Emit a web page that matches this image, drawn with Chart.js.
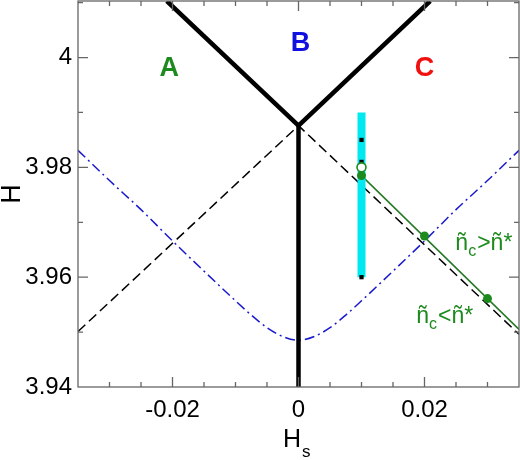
<!DOCTYPE html>
<html>
<head>
<meta charset="utf-8">
<script src="https://cdn.jsdelivr.net/npm/chart.js@4.4.1/dist/chart.umd.min.js"></script>
<style>
  body { margin: 0; background: #fff; }
  canvas { display: block; }
</style>
</head>
<body>
<canvas id="phaseChart" width="520" height="460"></canvas>
<script>
// axis ranges and tick labels
var xRange = [-0.035, 0.035];
var yRange = [3.94, 4.0103];
var xTicks = [-0.02, 0, 0.02];
var yTicks = [3.94, 3.96, 3.98, 4];

// thick phase boundaries
var boundaryX = [-0.0209, 0, 0.0209];
var boundaryY = [4.0103, 3.9876, 4.0103];
var stemX = [0, 0];
var stemY = [3.9876, 3.94];

// dashed continuation lines
var dashedX = [-0.035, 0, 0.035];
var dashedY = [3.9501, 3.9876, 3.9496];

// dash-dot curve
var curveX = [-0.035, -0.03, -0.025, -0.02, -0.015, -0.01, -0.0075, -0.005, -0.0025, 0,
              0.0025, 0.005, 0.0075, 0.01, 0.015, 0.02, 0.025, 0.03, 0.035];
var curveY = [3.9831, 3.9776, 3.9723, 3.9666, 3.9611, 3.9557, 3.9531, 3.9508, 3.9492, 3.9485,
              3.9492, 3.9508, 3.9531, 3.9557, 3.9611, 3.9666, 3.9723, 3.9776, 3.9831];

// cyan bar and black squares
var barX = [0.01, 0.01];
var barY = [3.96, 3.99];
var squareX = [0.01, 0.01, 0.01];
var squareY = [3.985, 3.981, 3.96];

// green points and line
var openX = [0.01];
var openY = [3.98];
var greenX = [0.01, 0.02, 0.03];
var greenY = [3.9785, 3.9675, 3.9561];
var fitX = [0.01, 0.035];
var fitY = [3.9785, 3.9505];

// text annotations (data coordinates)
var regionText = ['A', 'B', 'C'];
var regionX = [-0.0205, 0.0003, 0.02];
var regionY = [3.998, 4.0026, 3.998];
var compareOps = ['>', '<'];
var compareX = [0.0249, 0.0187];
var compareY = [3.9649, 3.9516];

function pts(xs, ys) {
  return xs.map(function (x, i) { return { x: x, y: ys[i] }; });
}

var FONT = "'Liberation Sans', Arial, Helvetica, sans-serif";
var GREEN = '#1c8a1c';
Chart.defaults.font.family = FONT;
Chart.defaults.color = '#000';

var framePlugin = {
  id: 'frame',
  afterDatasetsDraw: function (chart) {
    var ctx = chart.ctx, a = chart.chartArea;
    var xs = chart.scales.x, ys = chart.scales.y;
    ctx.save();
    ctx.strokeStyle = '#666';
    ctx.lineWidth = 1.3;
    ctx.strokeRect(a.left, a.top, a.right - a.left, a.bottom - a.top);
    ctx.beginPath();
    for (var i = -7; i <= 7; i++) {
      var v = i * 0.005;
      var len = (i % 4 === 0) ? 10 : 5;
      var px = xs.getPixelForValue(v);
      if (px <= a.left + 1 || px >= a.right - 1) continue;
      ctx.moveTo(px, a.bottom); ctx.lineTo(px, a.bottom - len);
      ctx.moveTo(px, a.top); ctx.lineTo(px, a.top + len);
    }
    for (var j = 0; j <= 7; j++) {
      var yv = 3.94 + j * 0.01;
      var ylen = (j % 2 === 0) ? 10 : 5;
      var py = ys.getPixelForValue(yv);
      if (py <= a.top + 1 || py >= a.bottom - 1) continue;
      ctx.moveTo(a.left, py); ctx.lineTo(a.left + ylen, py);
      ctx.moveTo(a.right, py); ctx.lineTo(a.right - ylen, py);
    }
    ctx.stroke();
    ctx.restore();
  },
  afterDraw: function (chart) {
    var ctx = chart.ctx, a = chart.chartArea;
    var xs = chart.scales.x, ys = chart.scales.y;
    ctx.save();
    // region letters
    var regionColors = [GREEN, '#1010e0', '#f01010'];
    ctx.font = 'bold 27px ' + FONT;
    ctx.textAlign = 'center';
    ctx.textBaseline = 'middle';
    regionText.forEach(function (t, i) {
      ctx.fillStyle = regionColors[i];
      ctx.fillText(t, xs.getPixelForValue(regionX[i]), ys.getPixelForValue(regionY[i]));
    });
    // n_c vs n* labels
    ctx.fillStyle = GREEN;
    ctx.textAlign = 'left';
    ctx.textBaseline = 'alphabetic';
    compareOps.forEach(function (op, i) {
      var x = xs.getPixelForValue(compareX[i]);
      var y = ys.getPixelForValue(compareY[i]);
      ctx.font = '23px ' + FONT;
      ctx.fillText('\u00f1', x, y);
      x += ctx.measureText('\u00f1').width;
      ctx.font = '16px ' + FONT;
      ctx.fillText('c', x, y + 6);
      x += ctx.measureText('c').width + 1;
      ctx.font = '23px ' + FONT;
      ctx.fillText(op + '\u00f1*', x, y);
    });
    // axis titles
    ctx.fillStyle = '#000';
    ctx.font = '25px ' + FONT;
    ctx.textBaseline = 'alphabetic';
    ctx.fillText('H', 283, 447);
    ctx.font = '17px ' + FONT;
    ctx.fillText('s', 302, 457);
    ctx.translate(20, (a.top + a.bottom) / 2);
    ctx.rotate(-Math.PI / 2);
    ctx.textAlign = 'center';
    ctx.font = '27px ' + FONT;
    ctx.fillText('H', 0, 0);
    ctx.restore();
  }
};

new Chart(document.getElementById('phaseChart'), {
  type: 'scatter',
  plugins: [framePlugin],
  data: {
    datasets: [
      { data: pts(openX, openY), showLine: false, pointRadius: 4.5, pointBackgroundColor: '#fff',
        pointBorderColor: GREEN, pointBorderWidth: 1.6, order: 0 },
      { data: pts(greenX, greenY), showLine: false, pointRadius: 4.5, pointBackgroundColor: GREEN,
        pointBorderColor: GREEN, pointBorderWidth: 0, order: 1 },
      { data: pts(squareX, squareY), showLine: false, pointStyle: 'rect', pointRadius: 3,
        pointBackgroundColor: '#000', pointBorderWidth: 0, order: 2 },
      { data: pts(barX, barY), showLine: true, borderColor: '#00e8f0', borderWidth: 8,
        pointRadius: 0, borderCapStyle: 'butt', order: 3 },
      { data: pts(fitX, fitY), showLine: true, borderColor: '#247824', borderWidth: 1.5,
        pointRadius: 0, clip: 0, order: 4 },
      { data: pts(boundaryX, boundaryY), showLine: true, borderColor: '#000', borderWidth: 4.5,
        pointRadius: 0, clip: 0, order: 5 },
      { data: pts(stemX, stemY), showLine: true, borderColor: '#000', borderWidth: 4.5,
        pointRadius: 0, borderCapStyle: 'butt', clip: 0, order: 5 },
      { data: pts(curveX, curveY), showLine: true, borderColor: '#1a1acc', borderWidth: 1.5,
        borderDash: [10, 4, 2, 4], pointRadius: 0, cubicInterpolationMode: 'monotone', clip: 0, order: 6 },
      { data: pts(dashedX, dashedY), showLine: true, borderColor: '#000', borderWidth: 1.5,
        borderDash: [10, 5], pointRadius: 0, clip: 0, order: 7 }
    ]
  },
  options: {
    responsive: false,
    animation: false,
    devicePixelRatio: 1,
    layout: { autoPadding: false, padding: { top: 1, right: 1, left: 0, bottom: 0 } },
    plugins: { legend: { display: false }, tooltip: { enabled: false } },
    scales: {
      x: {
        type: 'linear', min: xRange[0], max: xRange[1],
        grid: { display: false, drawTicks: false }, border: { display: false },
        afterBuildTicks: function (s) { s.ticks = xTicks.map(function (v) { return { value: v }; }); },
        afterFit: function (s) { s.height = 73; s.paddingLeft = 0; s.paddingRight = 0; },
        ticks: { autoSkip: false, maxRotation: 0, padding: 9, font: { size: 24 },
          callback: function (v) { return String(v); } }
      },
      y: {
        type: 'linear', min: yRange[0], max: yRange[1],
        grid: { display: false, drawTicks: false }, border: { display: false },
        afterBuildTicks: function (s) { s.ticks = yTicks.map(function (v) { return { value: v }; }); },
        afterFit: function (s) { s.width = 78; s.paddingTop = 0; s.paddingBottom = 0; },
        ticks: { autoSkip: false, padding: 6, font: { size: 24 },
          callback: function (v) { return String(v); } }
      }
    }
  }
});
</script>
</body>
</html>
